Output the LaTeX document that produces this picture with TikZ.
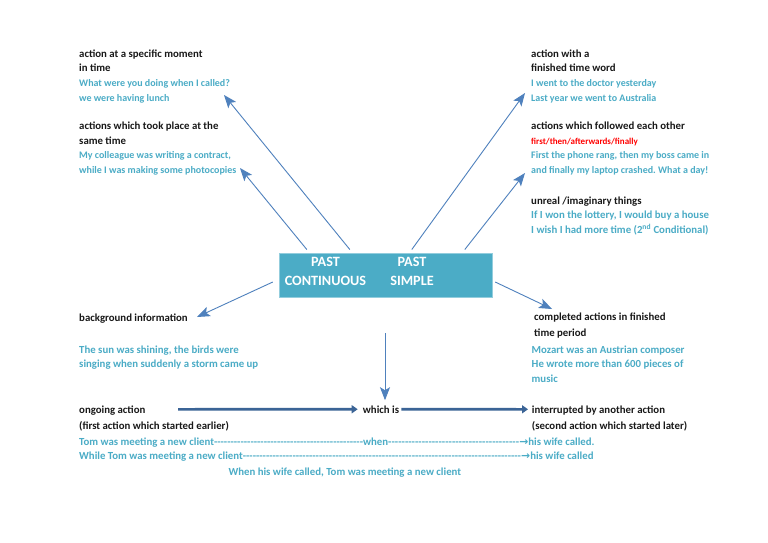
\documentclass[tikz,border=0pt]{standalone}
\usepackage{fontspec}
\setmainfont{Carlito}
\newfontfamily\arrowfont{DejaVu Sans}
\usetikzlibrary{arrows.meta}
\frenchspacing

\definecolor{textblue}{HTML}{4BACC6}
\definecolor{linkblue}{HTML}{4F81BD}
\definecolor{darkblue}{HTML}{3B6496}
\newcommand{\eg}[1]{\textcolor{textblue}{#1}}
\newcommand{\egs}[1]{\textcolor{textblue}{\fontsize{10}{14.6}\selectfont #1}}
\newcommand{\hy}[1]{\hbox to #1{\xleaders\hbox{-}\hfill}}

% multi-line nodes sit on the baseline of their last line
\tikzset{
  rule/.style={font=\bfseries\fontsize{10.8}{14.6}\selectfont, anchor=base west, align=left, inner sep=0pt, text=black!90},
  pasttxt/.style={font=\bfseries\fontsize{14.2}{18.3}\selectfont, anchor=base, align=center, inner sep=0pt, text=white},
  link/.style={linkblue, line width=0.9pt, -{Stealth[length=13pt,width=10pt,inset=3pt]}},
  timeline/.style={darkblue, line width=2.6pt, -{Triangle[length=6pt,width=8pt]}},
}

\begin{document}
\begin{tikzpicture}[x=1pt,y=-1pt]
    \fill[white] (0,0) rectangle (768,543);
    \useasboundingbox (0,0) rectangle (768,543);

    % the two tenses
    \node[fill=textblue, draw=textblue!60!white, minimum width=213pt, minimum height=44.6pt, inner sep=0pt] (tense) at (385.5,275) {};
    \node[pasttxt] (pastcont) at (325.5,285) {PAST\\CONTINUOUS};
    \node[pasttxt] (pastsimp) at (412,285) {PAST\\SIMPLE};

    % uses, left
    \node[rule] (moment) at (79,101) {action at a specific moment\\in time\\\egs{What were you doing when I called?}\\\egs{we were having lunch}};
    \node[rule] (sametime) at (79,173.3) {actions which took place at the\\same time\\\egs{My colleague was writing a contract,}\\\egs{while I was making some photocopies}};
    \node[rule] (background) at (79,321.5) {background information};
    \node[rule] (sun) at (79,367.8) {\eg{The sun was shining, the birds were}\\\eg{singing when suddenly a storm came up}};

    % uses, right
    \node[rule] (finished) at (531,101) {action with a\\finished time word\\\egs{I went to the doctor yesterday}\\\egs{Last year we went to Australia}};
    \node[rule] (sequence) at (531,173.3) {actions which followed each other\\{\color{red}\fontsize{9}{14.6}\selectfont first/then/afterwards/finally}\\\egs{First the phone rang, then my boss came in}\\\egs{and finally my laptop crashed. What a day!}};
    \node[rule] (unreal) at (531,233.3) {unreal /imaginary things\\\eg{If I won the lottery, I would buy a house}\\\eg{I wish I had more time (2\textsuperscript{nd} Conditional)}};
    \node[rule] (completed) at (534,336.5) {completed actions in finished\\[1.4pt]time period};
    \node[rule] (mozart) at (531.5,382.2) {\eg{Mozart was an Austrian composer}\\\eg{He wrote more than 600 pieces of}\\\eg{music}};

    % both together
    \node[rule] (ongoing) at (79,429.3) {ongoing action\\[1.6pt](first action which started earlier)};
    \node[rule] (whichis) at (362.7,413) {which is};
    \node[rule] (interrupted) at (531.7,429.3) {interrupted by another action\\[1.6pt](second action which started later)};
    \node[rule, text=textblue] (tom) at (79,445) {\hbox to 284pt{Tom was meeting a new client\xleaders\hbox{-}\hfill}when\hy{131pt}{\arrowfont →}his wife called.};
    \node[rule, text=textblue] (while) at (79,459.8) {\hbox to 442pt{While Tom was meeting a new client\xleaders\hbox{-}\hfill}{\arrowfont →}his wife called};
    \node[rule] (whenhis) at (228.3,475.8) {\eg{When his wife called, Tom was meeting a new client}};

    \coordinate (momentTip) at (224,95);
    \coordinate (sametimeTip) at (240,168);
    \coordinate (finishedTip) at (525,93);
    \coordinate (sequenceTip) at (525,173);
    \coordinate (backgroundTip) at (197,317);
    \coordinate (completedTip) at (552,309);
    \coordinate (whichStart) at (385,333);
    \coordinate (earlierStart) at (178,409.3);
    \coordinate (laterTip) at (528,409.3);

    \draw[link] ([xshift=28pt,yshift=3pt]tense.north west) -- (sametimeTip);
    \draw[link] ([xshift=71pt,yshift=3pt]tense.north west) -- (momentTip);
    \draw[link] ([xshift=133pt,yshift=3pt]tense.north west) -- (finishedTip);
    \draw[link] ([xshift=186pt,yshift=3pt]tense.north west) -- (sequenceTip);
    \draw[link] ([xshift=-6pt,yshift=-7pt]tense.west) -- (backgroundTip);
    \draw[link] ([xshift=3pt,yshift=-7pt]tense.east) -- (completedTip);
    \draw[link] (whichStart) -- ([yshift=5pt]whichis.north -| whichStart);
    \draw[timeline] (earlierStart) -- ([xshift=-5pt]whichis.west);
    \draw[timeline] ([xshift=2pt]whichis.east) -- (laterTip);
\end{tikzpicture}
\end{document}
